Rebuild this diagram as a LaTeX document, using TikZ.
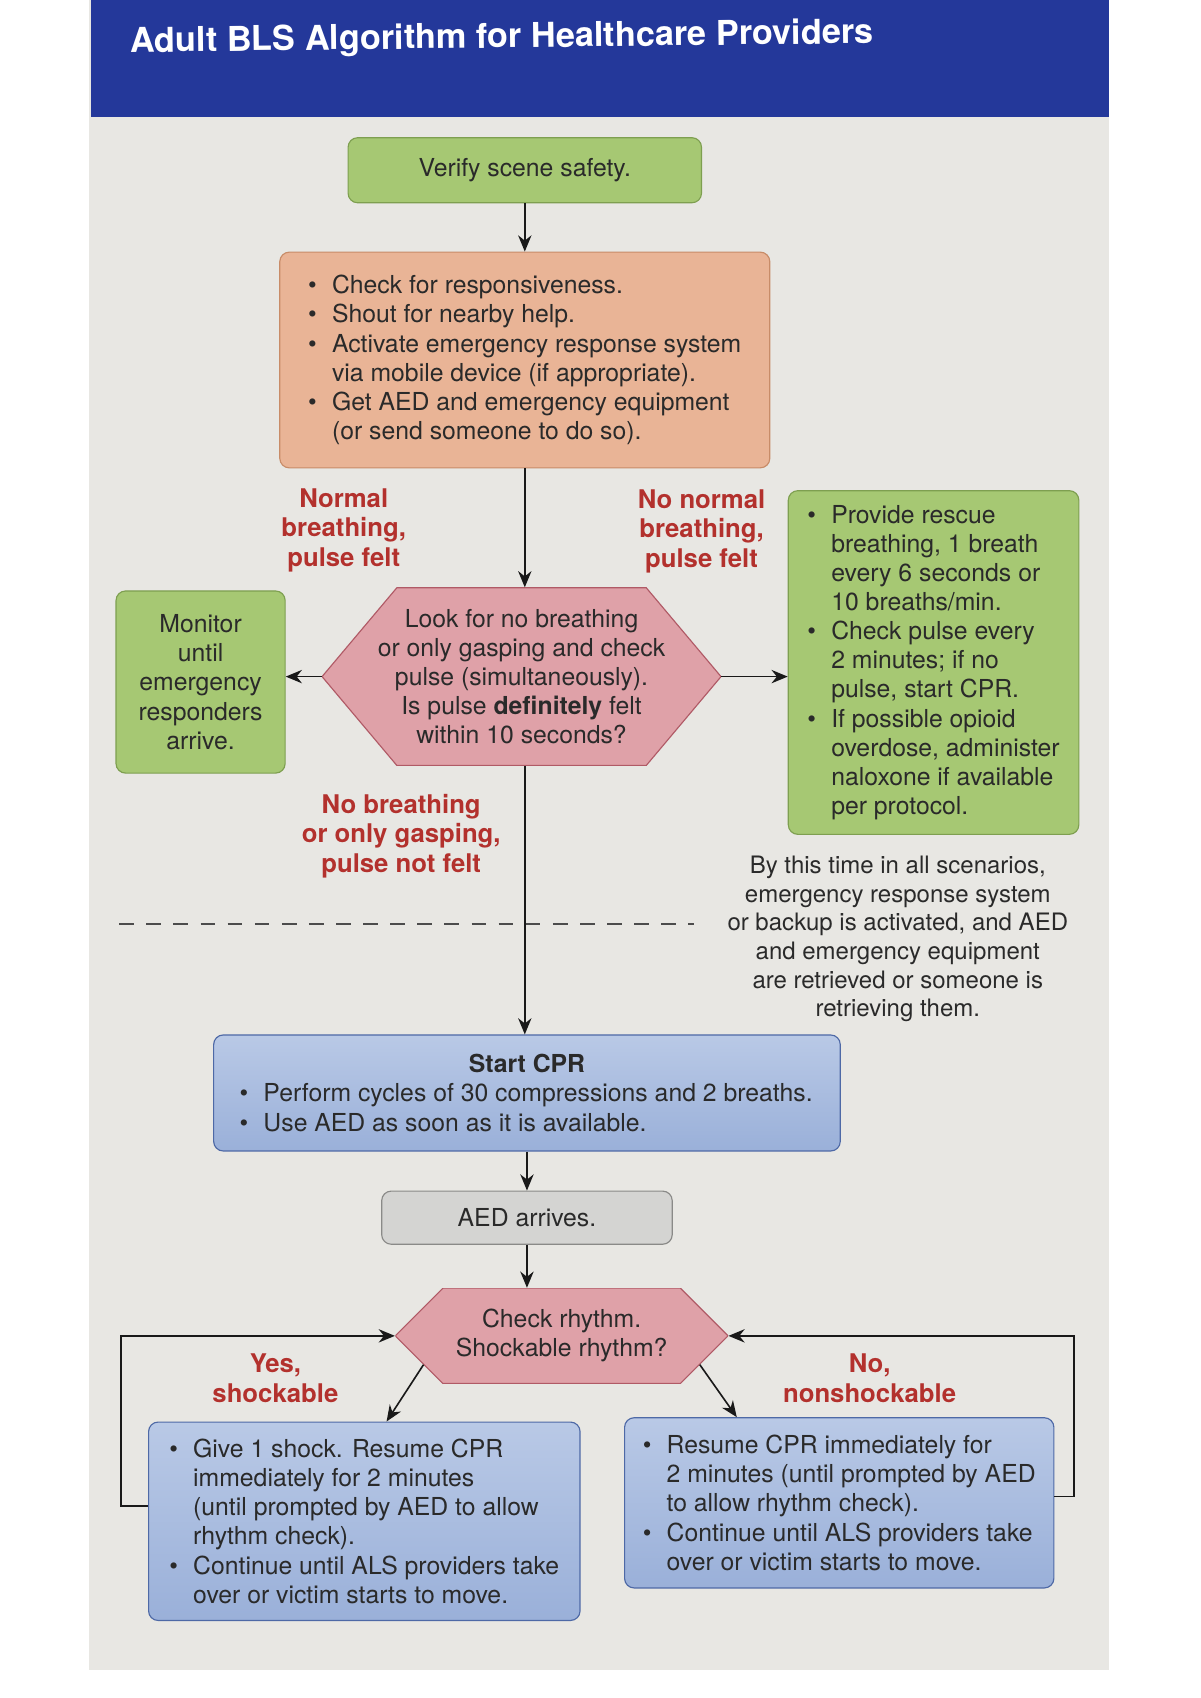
\documentclass[tikz,border=0pt]{standalone}
\usepackage{fontspec}
\setmainfont{TeX Gyre Heros}
\usetikzlibrary{arrows.meta,calc}

\definecolor{pagebg}{HTML}{E8E7E3}
\definecolor{headblue}{HTML}{24389A}
\definecolor{greenfill}{HTML}{A6C873}
\definecolor{greenline}{HTML}{7E9F50}
\definecolor{orangefill}{HTML}{E9B496}
\definecolor{orangeline}{HTML}{C88C68}
\definecolor{pinkfill}{HTML}{DFA1A8}
\definecolor{pinkline}{HTML}{B05A66}
\definecolor{bluetop}{HTML}{B9C9E6}
\definecolor{bluebot}{HTML}{9AB0D9}
\definecolor{blueline}{HTML}{4E69A6}
\definecolor{greyfill}{HTML}{D4D4D2}
\definecolor{greyline}{HTML}{8A8A88}
\definecolor{lblred}{HTML}{B3312D}
\definecolor{ink}{HTML}{2A2A2A}

\newcommand{\bodyfont}{\fontsize{13}{15.3}\selectfont}
\newcommand{\lblfont}{\fontsize{13.5}{15.4}\selectfont\bfseries}
\newcommand{\notefont}{\fontsize{12.6}{15}\selectfont}
\newcommand{\titlefont}{\fontsize{18}{22}\selectfont\bfseries}
\newcommand{\bpt}{\makebox[12.5pt][l]{\textbullet}}
\newcommand{\bsp}{\hspace*{12.5pt}}

\begin{document}
\begin{tikzpicture}[x=0.02cm, y=-0.02cm,
  flowbox/.style={draw, line width=0.6pt, rounded corners=5pt, inner sep=0pt, font=\bodyfont, text=ink},
  greenbox/.style={flowbox, fill=greenfill, draw=greenline},
  orangebox/.style={flowbox, fill=orangefill, draw=orangeline},
  bluebox/.style={flowbox, top color=bluetop, bottom color=bluebot, draw=blueline},
  greybox/.style={flowbox, fill=greyfill, draw=greyline},
  hexnode/.style={inner sep=0pt, align=center, font=\bodyfont, text=ink,
    path picture={\draw[fill=pinkfill, draw=pinkline, line width=0.6pt]
      (path picture bounding box.west)
      -- ([xshift=#1]path picture bounding box.north west)
      -- ([xshift=-#1]path picture bounding box.north east)
      -- (path picture bounding box.east)
      -- ([xshift=-#1]path picture bounding box.south east)
      -- ([xshift=#1]path picture bounding box.south west) -- cycle;}},
  redlbl/.style={font=\lblfont, text=lblred, align=center},
  arr/.style={-{Stealth[length=8.5pt,width=7pt]}, line width=0.85pt, draw=black!90},
  dashline/.style={line width=1.1pt, draw=black!70, dash pattern=on 0.27cm off 0.23cm}]

  % page and header band
  \fill[white] (0,0) rectangle (1107,1566);
  \useasboundingbox (0,0) rectangle (1107,1566);
  \fill[pagebg] (82,0) rectangle (1023,1540);
  \fill[headblue] (84,0) rectangle (1023,108);
  \node[font=\titlefont, text=white, anchor=west, rotate=0.7] (title) at (114,40) {Adult BLS Algorithm for Healthcare Providers};

  % first steps
  \node[greenbox, minimum width=6.52cm, minimum height=1.2cm] (verify_box) at (484,157) {Verify scene safety.};
  \node[orangebox, minimum width=9.04cm, minimum height=3.98cm, align=left] (check_box) at (484,332)
    {\bpt Check for responsiveness.\\ \bpt Shout for nearby help.\\ \bpt Activate emergency response system\\ \bsp via mobile device (if appropriate).\\ \bpt Get AED and emergency equipment\\ \bsp (or send someone to do so).};

  % breathing and pulse check
  \node[hexnode=1.38cm, minimum width=7.36cm, minimum height=3.28cm] (pulse_hex) at (481,624)
    {Look for no breathing\\ or only gasping and check\\ pulse (simultaneously).\\ Is pulse \textbf{definitely} felt\\ within 10 seconds?};
  \node[greenbox, minimum width=3.12cm, minimum height=3.36cm, align=center] (monitor_box) at (185,629)
    {Monitor\\ until\\ emergency\\ responders\\ arrive.};
  \node[greenbox, minimum width=5.36cm, minimum height=6.34cm, align=left] (rescue_box) at (861,611)
    {\bpt Provide rescue\\ \bsp breathing, 1 breath\\ \bsp every 6 seconds or\\ \bsp 10 breaths/min.\\ \bpt Check pulse every\\ \bsp 2 minutes; if no\\ \bsp pulse, start CPR.\\ \bpt If possible opioid\\ \bsp overdose, administer\\ \bsp naloxone if available\\ \bsp per protocol.};

  \node[redlbl] (normal_lbl) at (317,489) {Normal\\ breathing,\\ pulse felt};
  \node[redlbl] (nonormal_lbl) at (647,490) {No normal\\ breathing,\\ pulse felt};
  \node[redlbl] (nobreath_lbl) at (370,771) {No breathing\\ or only gasping,\\ pulse not felt};

  \node[font=\notefont, text=ink, align=center] (scene_note) at (828,866)
    {By this time in all scenarios,\\ emergency response system\\ or backup is activated, and AED\\ and emergency equipment\\ are retrieved or someone is\\ retrieving them.};
  \coordinate (dash_a) at (110,852);
  \coordinate (dash_b) at (640,852);

  % CPR and AED
  \node[bluebox, minimum width=11.56cm, minimum height=2.14cm, align=left] (cpr_box) at (486,1008)
    {\makebox[10.6cm]{\bfseries Start CPR}\\ \bpt Perform cycles of 30 compressions and 2 breaths.\\ \bpt Use AED as soon as it is available.};
  \node[greybox, minimum width=5.36cm, minimum height=0.98cm] (aed_box) at (486,1123) {AED arrives.};

  % rhythm check
  \node[hexnode=0.88cm, minimum width=6.14cm, minimum height=1.76cm] (rhythm_hex) at (518,1232)
    {Check rhythm.\\ Shockable rhythm?};
  \node[redlbl] (yes_lbl) at (254,1271) {Yes,\\ shockable};
  \node[redlbl] (no_lbl) at (802,1271) {No,\\ nonshockable};
  \node[bluebox, minimum width=7.96cm, minimum height=3.66cm, align=left] (shock_box) at (336,1403)
    {\bpt Give 1 shock. Resume CPR\\ \bsp immediately for 2 minutes\\ \bsp (until prompted by AED to allow\\ \bsp rhythm check).\\ \bpt Continue until ALS providers take\\ \bsp over or victim starts to move.};
  \node[bluebox, minimum width=7.92cm, minimum height=3.14cm, align=left] (noshock_box) at (774,1386)
    {\bpt Resume CPR immediately for\\ \bsp 2 minutes (until prompted by AED\\ \bsp to allow rhythm check).\\ \bpt Continue until ALS providers take\\ \bsp over or victim starts to move.};

  % connectors
  \draw[arr] (verify_box) -- (check_box);
  \draw[arr] (check_box.south) -- (check_box.south |- pulse_hex.north);
  \draw[arr] (pulse_hex.west) -- (pulse_hex.west -| monitor_box.east);
  \draw[arr] (pulse_hex.east) -- (pulse_hex.east -| rescue_box.west);
  \draw[arr] (pulse_hex.south -| check_box.south) -- (cpr_box.north -| check_box.south);
  \draw[dashline] (dash_a) -- (dash_b);
  \draw[arr] (cpr_box) -- (aed_box);
  \draw[arr] (aed_box.south) -- (aed_box.south |- rhythm_hex.north);
  \draw[arr] ($(rhythm_hex.west)!0.6!([xshift=0.88cm]rhythm_hex.south west)$) -- ($(shock_box.north west)+(220,0)$);
  \draw[arr] ($(rhythm_hex.east)!0.6!([xshift=-0.88cm]rhythm_hex.south east)$) -- ($(noshock_box.north west)+(104,0)$);
  \draw[arr] ($(shock_box.west)+(0,-14)$) -- ++(-25,0) |- (rhythm_hex.west);
  \draw[arr] ($(noshock_box.east)+(0,-6)$) -- ++(18,0) |- (rhythm_hex.east);
\end{tikzpicture}
\end{document}
